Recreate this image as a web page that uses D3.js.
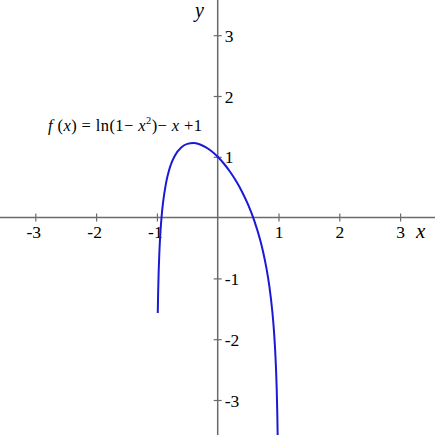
<!DOCTYPE html>
<html><head><meta charset="utf-8">
<script src="https://cdn.jsdelivr.net/npm/d3@7"></script>
<style>html,body{margin:0;padding:0;background:#fff;}svg{display:block;}
text{font-family:"Liberation Serif","Times New Roman",serif;}</style>
</head><body>
<svg id="chart" width="435" height="435"></svg>
<script>
const xTicks = [-3, -2, -1, 1, 2, 3];
const yTicks = [-3, -2, -1, 1, 2, 3];
const xTickLabels = ["-3", "-2", "-1", "1", "2", "3"];
const yTickLabels = ["-3", "-2", "-1", "1", "2", "3"];
const curveX = [-0.9855, -0.98, -0.97, -0.96, -0.94, -0.92, -0.9, -0.85, -0.8, -0.75, -0.7, -0.6, -0.5, -0.4, -0.3, -0.2, -0.1, 0, 0.1, 0.2, 0.3, 0.4, 0.5, 0.6, 0.7, 0.75, 0.8, 0.85, 0.9, 0.92, 0.94, 0.96, 0.97, 0.98, 0.986, 0.988];
const curveY = [-1.57, -1.249, -0.858, -0.586, -0.211, 0.047, 0.239, 0.568, 0.778, 0.923, 1.027, 1.154, 1.212, 1.226, 1.206, 1.159, 1.090, 1.0, 0.890, 0.759, 0.606, 0.426, 0.212, -0.046, -0.373, -0.577, -0.822, -1.132, -1.561, -1.793, -2.091, -2.506, -2.798, -3.209, -3.569, -3.724];

const W = 435, H = 435;
const svg = d3.select("#chart");
const x = d3.scaleLinear().domain([-3, 3]).range([35.3, 400.1]);
const y = d3.scaleLinear().domain([-3, 3]).range([400.0, 35.2]);
const axisColor = "#6b6b6b";
const font = "Liberation Serif";

// x axis
const gx = svg.append("g").attr("transform", `translate(0,${y(0)})`)
  .call(d3.axisBottom(x).tickValues(xTicks).tickFormat((d, i) => xTickLabels[i]).tickSize(4).tickPadding(0));
gx.attr("font-family", font).attr("font-size", 17.5);
gx.select(".domain").remove();
gx.append("line").attr("x1", 0).attr("x2", W).attr("stroke", axisColor).attr("stroke-width", 1.5);
gx.selectAll(".tick line").attr("y1", -4).attr("y2", 4).attr("stroke", axisColor).attr("stroke-width", 1.2);
gx.selectAll(".tick text").attr("y", 20.5).attr("dy", 0).attr("fill", "#000")
  .attr("dx", d => d < 0 ? -2 : 0);

// y axis
const gy = svg.append("g").attr("transform", `translate(${x(0)},0)`)
  .call(d3.axisRight(y).tickValues(yTicks).tickFormat((d, i) => yTickLabels[i]).tickSize(4).tickPadding(0));
gy.attr("font-family", font).attr("font-size", 17.5);
gy.select(".domain").remove();
gy.append("line").attr("y1", 0).attr("y2", H).attr("stroke", axisColor).attr("stroke-width", 1.5);
gy.selectAll(".tick line").attr("x1", -4).attr("x2", 4).attr("stroke", axisColor).attr("stroke-width", 1.2);
gy.selectAll(".tick text").attr("x", 7).attr("dy", "0.35em").attr("fill", "#000");

// axis names
svg.append("text").attr("x", 416).attr("y", 238).text("x")
  .attr("font-family", font).attr("font-style", "italic").attr("font-size", 21);
svg.append("text").attr("x", 195).attr("y", 17).text("y")
  .attr("font-family", font).attr("font-style", "italic").attr("font-size", 20);

// curve
const pts = curveX.map((v, i) => [v, curveY[i]]);
svg.append("path").datum(pts)
  .attr("fill", "none").attr("stroke", "#1a1ad6").attr("stroke-width", 2)
  .attr("d", d3.line().x(d => x(d[0])).y(d => y(d[1])).curve(d3.curveMonotoneX));

// formula label
const t = svg.append("text").attr("x", 48).attr("y", 131)
  .attr("font-family", font).attr("font-size", 16.5).attr("fill", "#000")
  .attr("textLength", 154).attr("lengthAdjust", "spacing");
t.append("tspan").attr("font-style", "italic").text("f");
t.append("tspan").text(" (");
t.append("tspan").attr("font-style", "italic").text("x");
t.append("tspan").text(") = ln(1\u2212 ");
t.append("tspan").attr("font-style", "italic").text("x");
t.append("tspan").attr("dy", -7).attr("font-size", 10.5).text("2");
t.append("tspan").attr("dy", 7).text(")\u2212 ");
t.append("tspan").attr("font-style", "italic").text("x");
t.append("tspan").text(" +1");
</script>
</body></html>
